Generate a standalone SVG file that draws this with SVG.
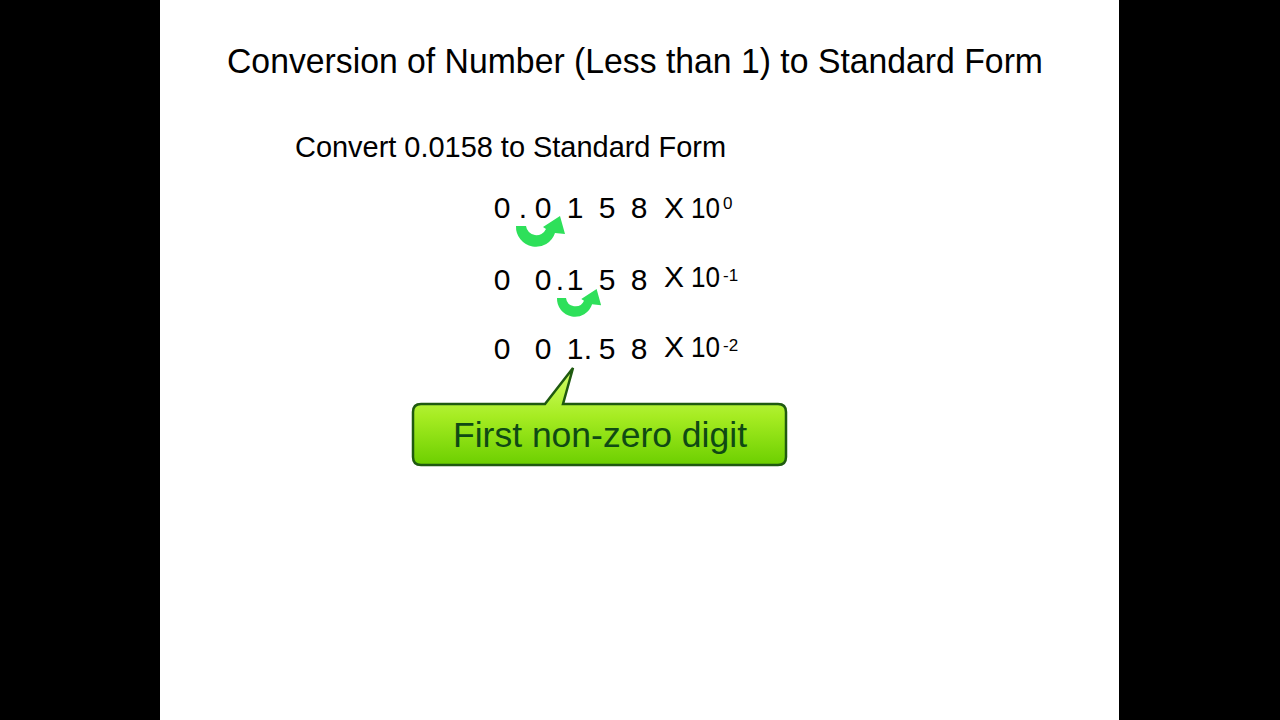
<svg xmlns="http://www.w3.org/2000/svg" width="1280" height="720" viewBox="0 0 1280 720">
<defs>
<linearGradient id="g" x1="0" y1="0" x2="0" y2="1">
<stop offset="0" stop-color="#d4ff6a"/>
<stop offset="0.5" stop-color="#a6ec22"/>
<stop offset="1" stop-color="#6ccf00"/>
</linearGradient>
<style>
text{font-family:"Liberation Sans",Arial,sans-serif;fill:#000}
.d{font-size:30px;text-anchor:middle}
.ten{font-size:30px}
.sup{font-size:17px}
.hd{fill:#2ee05a}
</style>
<path id="crescent" d="M516 226 A20 20 0 0 0 555 233 L565 234 L560 216 L543 227 L546 229 A10.5 10.5 0 0 1 526 226 Z"/>
</defs>
<rect x="0" y="0" width="1280" height="720" fill="#000"/>
<rect x="160" y="0" width="959" height="720" fill="#fff"/>
<g id="title"><text x="227" y="73" style="font-size:35px" textLength="816" lengthAdjust="spacingAndGlyphs">Conversion of Number (Less than 1) to Standard Form</text></g>
<g id="subtitle"><text x="295" y="157" style="font-size:30px" textLength="431" lengthAdjust="spacingAndGlyphs">Convert 0.0158 to Standard Form</text></g>
<g id="row1">
<text class="d" x="502" y="218">0</text><text class="d" x="523" y="218">.</text><text class="d" x="543" y="218">0</text><text class="d" x="575" y="218">1</text><text class="d" x="607" y="218">5</text><text class="d" x="639" y="218">8</text><text class="d" x="674" y="218">X</text><text class="ten" x="691" y="218" textLength="29" lengthAdjust="spacingAndGlyphs">10</text><text class="sup" x="723" y="209">0</text>
</g>
<g id="row2">
<text class="d" x="502" y="290">0</text><text class="d" x="543" y="290">0</text><text class="d" x="560" y="290">.</text><text class="d" x="575" y="290">1</text><text class="d" x="607" y="290">5</text><text class="d" x="639" y="290">8</text><text class="d" x="674" y="287">X</text><text class="ten" x="691" y="287" textLength="29" lengthAdjust="spacingAndGlyphs">10</text><text class="sup" x="723" y="281">-1</text>
</g>
<g id="row3">
<text class="d" x="502" y="359">0</text><text class="d" x="543" y="359">0</text><text class="d" x="575" y="359">1</text><text class="d" x="588" y="359">.</text><text class="d" x="607" y="359">5</text><text class="d" x="639" y="359">8</text><text class="d" x="674" y="357">X</text><text class="ten" x="691" y="357" textLength="29" lengthAdjust="spacingAndGlyphs">10</text><text class="sup" x="723" y="351">-2</text>
</g>
<g id="connectors">
<use href="#crescent" class="hd"/>
<use href="#crescent" class="hd" transform="translate(557 298) scale(0.9) translate(-516 -226)"/>
</g>
<g id="callout">
<path d="M421 404 L545 404 L573 368 L563 404 L778 404 Q786 404 786 412 L786 457 Q786 465 778 465 L421 465 Q413 465 413 457 L413 412 Q413 404 421 404 Z" fill="url(#g)" stroke="#1f5a10" stroke-width="2.5"/>
<text x="453" y="447" textLength="294" lengthAdjust="spacingAndGlyphs" style="font-size:35px;fill:#0f4a14">First non-zero digit</text>
</g>
</svg>
